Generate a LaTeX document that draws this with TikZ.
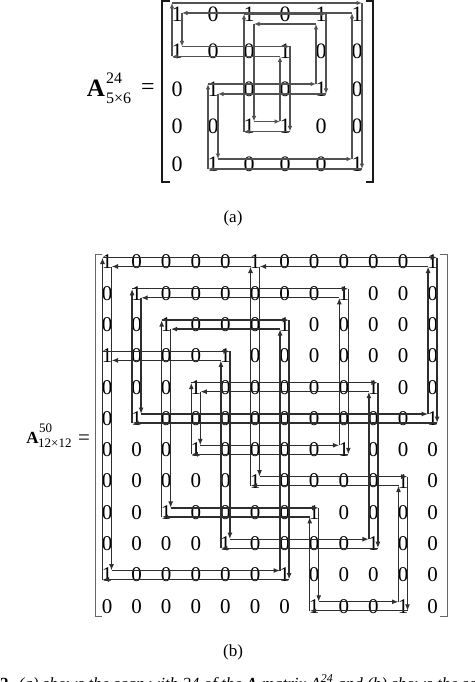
\documentclass[tikz,border=0pt]{standalone}
\usepackage{fontspec}
\setmainfont{Liberation Serif}
\usetikzlibrary{arrows.meta}
\newcommand\hsegm[9]{%
 \draw[#1] ({#2x(#4)+(#6)*\myoff},{#3-\myoff}) -- ({#2x(#5)+(#8)*\myoff},{#3-\myoff});
 \draw[#1] ({#2x(#5)+(#9)*\myoff},{#3+\myoff}) -- ({#2x(#4)+(#7)*\myoff},{#3+\myoff});}
\newcommand\vsegm[9]{%
 \draw[#1] ({#3-\myoff},{#2y(#5)+(#8)*\myoff}) -- ({#3-\myoff},{#2y(#4)+(#6)*\myoff});
 \draw[#1] ({#3+\myoff},{#2y(#4)+(#7)*\myoff}) -- ({#3+\myoff},{#2y(#5)+(#9)*\myoff});}
\begin{document}
\begin{tikzpicture}[x=1pt,y=-1pt,
  declare function={ax(\x)=177+36*(\x-1); ay(\x)=14+37.5*(\x-1); bx(\x)=107+29.6*(\x-1); by(\x)=262+31.3*(\x-1);},
  entA/.style={font=\fontsize{22}{22}\selectfont, inner sep=0pt},
  entB/.style={font=\fontsize{21}{21}\selectfont, inner sep=0pt},
  arrA/.style={draw=black!68, line width=1.05pt, -{Latex[length=5.5pt,width=4.5pt]}},
  arrB/.style={draw=black!82, line width=1.35pt, -{Latex[length=6.5pt,width=5pt]}},
  brkA/.style={draw=black!90, line width=1.8pt},
  brkB/.style={draw=black!60, line width=0.9pt},
  lbl/.style={inner sep=0pt},
]
\useasboundingbox (0,0) rectangle (474,682);
\fill[white] (0,0) rectangle (474,682);

% ---------------- (a) ----------------
\foreach \row [count=\rr] in {{1,0,1,0,1,1},{1,0,0,1,0,0},{0,1,0,0,1,0},{0,0,1,1,0,0},{0,1,0,0,0,1}}{
  \foreach \v [count=\cc] in \row {
    \node[entA] (a-\rr-\cc) at ({ax(\cc)},{ay(\rr)}) {\v};
  }
}
\draw[brkA] (170,1) -- (162,1) -- (162,182) -- (170,182);
\draw[brkA] (366,1) -- (373,1) -- (373,182) -- (366,182);
\node[lbl, font=\fontsize{25}{25}\selectfont\bfseries] (lA) at (96,88) {A};
\node[lbl, anchor=west, font=\fontsize{16}{16}\selectfont] (lAsup) at (106,78) {24};
\node[lbl, anchor=west, font=\fontsize{16}{16}\selectfont] (lAsub) at (106,98) {5×6};
\node[lbl, font=\fontsize{24}{24}\selectfont] (lAeq) at (148,89) {=};

\def\myoff{5}
\hsegm{arrA}{a}{ay(1)-6}{1}{6}{-1}{1}{1}{-1}
\hsegm{arrA}{a}{ay(1)+5}{3}{5}{-1}{1}{1}{-1}
\hsegm{arrA}{a}{ay(2)}{1}{4}{1}{-1}{1}{-1}
\hsegm{arrA}{a}{ay(3)}{2}{5}{-1}{1}{-1}{1}
\hsegm{arrA}{a}{ay(4)}{3}{4}{1}{-1}{-1}{1}
\hsegm{arrA}{a}{ay(5)}{2}{6}{1}{-1}{-1}{1}
\vsegm{arrA}{a}{ax(1)}{1}{2}{-2.2}{-0.2}{1}{-1}
\vsegm{arrA}{a}{ax(2)}{3}{5}{-1}{1}{1}{-1}
\vsegm{arrA}{a}{ax(3)}{1}{4}{0}{2}{1}{-1}
\vsegm{arrA}{a}{ax(4)}{2}{4}{1}{-1}{-1}{1}
\vsegm{arrA}{a}{ax(5)}{1}{3}{2}{0}{-1}{1}
\vsegm{arrA}{a}{ax(6)}{1}{5}{-0.2}{-2.2}{-1}{1}

\node[lbl, font=\fontsize{17}{17}\selectfont] (capa) at (233,218) {(a)};

% ---------------- (b) ----------------
\foreach \row [count=\rr] in {
 {1,0,0,0,0,1,0,0,0,0,0,1},
 {0,1,0,0,0,0,0,0,1,0,0,0},
 {0,0,1,0,0,0,1,0,0,0,0,0},
 {1,0,0,0,1,0,0,0,0,0,0,0},
 {0,0,0,1,0,0,0,0,0,1,0,0},
 {0,1,0,0,0,0,0,0,0,0,0,1},
 {0,0,0,1,0,0,0,0,1,0,0,0},
 {0,0,0,0,0,1,0,0,0,0,1,0},
 {0,0,1,0,0,0,0,1,0,0,0,0},
 {0,0,0,0,1,0,0,0,0,1,0,0},
 {1,0,0,0,0,0,1,0,0,0,0,0},
 {0,0,0,0,0,0,0,1,0,0,1,0}}{
  \foreach \v [count=\cc] in \row {
    \node[entB] (b-\rr-\cc) at ({bx(\cc)},{by(\rr)}) {\v};
  }
}
\draw[brkB] (102,254) -- (95,254) -- (95,616) -- (102,616);
\draw[brkB] (440,254) -- (447,254) -- (447,616) -- (440,616);
\node[lbl, font=\fontsize{17}{17}\selectfont\bfseries] (lB) at (32.5,438) {A};
\node[lbl, anchor=west, font=\fontsize{13}{13}\selectfont] (lBsup) at (39,428) {50};
\node[lbl, anchor=west, font=\fontsize{13}{13}\selectfont] (lBsub) at (38,443) {12×12};
\node[lbl, font=\fontsize{21}{21}\selectfont] (lBeq) at (84,440) {=};

\def\myoff{4.5}
\draw[arrB] ({bx(1)-\myoff},{by(1)-\myoff}) -- ({bx(12)+\myoff},{by(1)-\myoff});
\draw[arrB] ({bx(12)-\myoff},{by(1)+\myoff}) -- ({bx(6)+\myoff},{by(1)+\myoff});
\draw[arrB] ({bx(6)-\myoff},{by(1)+\myoff}) -- ({bx(1)+\myoff},{by(1)+\myoff});
\hsegm{arrB}{b}{by(2)}{2}{9}{-1}{1}{1}{-1}
\hsegm{arrB}{b}{by(3)}{3}{7}{-1}{1}{1}{-1}
\hsegm{arrB}{b}{by(4)}{1}{5}{-1}{1}{1}{-1}
\hsegm{arrB}{b}{by(5)}{4}{10}{-1}{1}{1}{-1}
\hsegm{arrB}{b}{by(6)}{2}{12}{1}{-1}{-1}{1}
\hsegm{arrB}{b}{by(7)}{4}{9}{1}{-1}{-1}{1}
\hsegm{arrB}{b}{by(8)}{6}{11}{1}{-1}{1}{-1}
\hsegm{arrB}{b}{by(9)}{3}{8}{1}{-1}{1}{-1}
\hsegm{arrB}{b}{by(10)}{5}{10}{1}{-1}{-1}{1}
\hsegm{arrB}{b}{by(11)}{1}{7}{1}{-1}{-1}{1}
\hsegm{arrB}{b}{by(12)}{8}{11}{1}{-1}{-1}{1}
\vsegm{arrB}{b}{bx(1)}{1}{11}{-1}{1}{1}{-1}
\vsegm{arrB}{b}{bx(2)}{2}{6}{-1}{1}{1}{-1}
\vsegm{arrB}{b}{bx(3)}{3}{9}{-1}{1}{1}{-1}
\vsegm{arrB}{b}{bx(4)}{5}{7}{-1}{1}{1}{-1}
\vsegm{arrB}{b}{bx(5)}{4}{10}{1}{-1}{1}{-1}
\vsegm{arrB}{b}{bx(6)}{1}{8}{1}{1}{1}{-1}
\vsegm{arrB}{b}{bx(7)}{3}{11}{1}{-1}{-1}{1}
\vsegm{arrB}{b}{bx(8)}{9}{12}{1}{-1}{1}{-1}
\vsegm{arrB}{b}{bx(9)}{2}{7}{1}{-1}{-1}{1}
\vsegm{arrB}{b}{bx(10)}{5}{10}{1}{-1}{-1}{1}
\vsegm{arrB}{b}{bx(11)}{8}{12}{1}{-1}{-1}{1}
\vsegm{arrB}{b}{bx(12)}{1}{6}{1}{-1}{-1}{1}

\node[lbl, font=\fontsize{17}{17}\selectfont] (capb) at (233,652) {(b)};

\begin{scope}
\clip (0,0) rectangle (474,682);
\node[anchor=base west, inner sep=0pt, font=\fontsize{17}{17}\selectfont\itshape] (capfig) at (0,689)
 {\textbf{\upshape 2.} (a) shows the scan with 24 of the \textbf{A} matrix A\textsuperscript{24} and (b) shows the scan with};
\end{scope}
\end{tikzpicture}
\end{document}
